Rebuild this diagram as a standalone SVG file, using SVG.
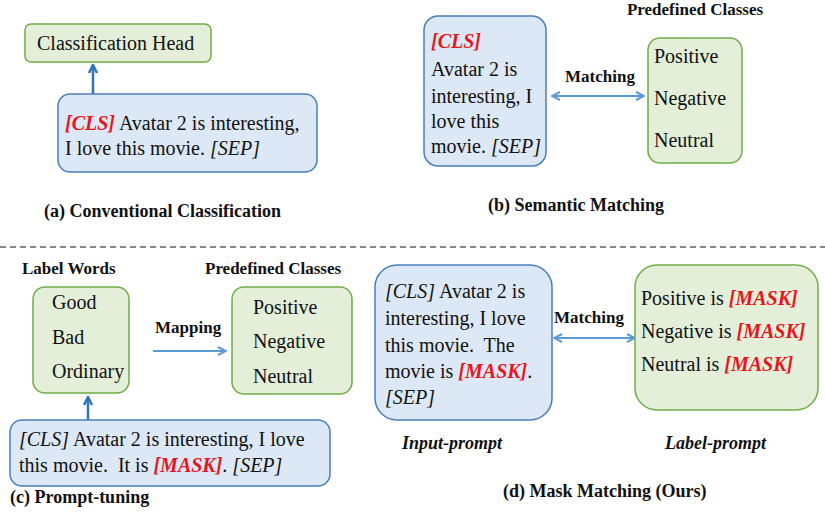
<svg xmlns="http://www.w3.org/2000/svg" width="825" height="512" viewBox="0 0 825 512">
<style>
text{font-family:"Liberation Serif",serif;fill:#111}
.t{font-size:20px;font-family:"Tinos","Times New Roman","Liberation Serif","DejaVu Serif",serif}
.b{font-weight:bold;font-size:17px}
.cap{font-weight:bold;font-size:18px}
.blue{fill:#dce8f5;stroke:#4a7ebb;stroke-width:1.5}
.green{fill:#e3efd9;stroke:#70ad47;stroke-width:1.5}
.r{fill:#e8141c;font-weight:bold;font-style:italic}
.i{font-style:italic}
.c{stroke:#5b9bd5;stroke-width:2;fill:none}
.v{stroke:#2e75b6;stroke-width:2.5;fill:none}
</style>
<defs>
<marker id="ah" viewBox="0 0 10 10" refX="9" refY="5" markerWidth="5" markerHeight="5" orient="auto-start-reverse"><path d="M1,1L9,5L1,9" fill="none" stroke="#5b9bd5" stroke-width="2"/></marker>
<marker id="av" viewBox="0 0 10 10" refX="9" refY="5" markerWidth="4" markerHeight="4" orient="auto"><path d="M1,1L9,5L1,9" fill="none" stroke="#2e75b6" stroke-width="2.5"/></marker>
</defs>
<g id="connectors">
<line class="v" x1="93" y1="94" x2="93" y2="65" marker-end="url(#av)"/>
<line class="c" x1="552" y1="96" x2="644" y2="96" marker-start="url(#ah)" marker-end="url(#ah)"/>
<line class="c" x1="153" y1="351" x2="226" y2="351" marker-end="url(#ah)"/>
<line class="v" x1="88" y1="420" x2="88" y2="397" marker-end="url(#av)"/>
<line class="c" x1="554" y1="338" x2="635" y2="338" marker-start="url(#ah)" marker-end="url(#ah)"/>
</g>
<g id="classhead"><rect class="green" x="25" y="24" width="186" height="38" rx="6"/><text class="t" x="37" y="50">Classification Head</text></g>
<g id="a-input"><rect class="blue" x="58" y="94" width="259" height="78" rx="12"/>
<text class="t" x="65" y="130"><tspan class="r">[CLS]</tspan> Avatar 2 is interesting,</text>
<text class="t" x="65" y="155">I love this movie. <tspan class="i">[SEP]</tspan></text></g>
<text class="cap" x="44" y="217">(a) Conventional Classification</text>

<g id="b-input"><rect class="blue" x="424" y="16" width="122" height="150" rx="14"/>
<text class="t" x="431" y="48" ><tspan class="r">[CLS]</tspan></text>
<text class="t" x="431" y="76">Avatar 2 is</text>
<text class="t" x="431" y="103">interesting, I</text>
<text class="t" x="431" y="128">love this</text>
<text class="t" x="431" y="153">movie. <tspan class="i">[SEP]</tspan></text></g>
<text class="b" x="695" y="15" text-anchor="middle">Predefined Classes</text>
<g id="b-classes"><rect class="green" x="648" y="38" width="94" height="125" rx="12"/>
<text class="t" x="654" y="63">Positive</text><text class="t" x="654" y="105">Negative</text><text class="t" x="654" y="147">Neutral</text></g>
<text class="b" x="565" y="82" font-size="15">Matching</text>
<text class="cap" x="488" y="211">(b) Semantic Matching</text>

<line x1="0" y1="247" x2="825" y2="247" stroke="#111" stroke-width="1.2" stroke-dasharray="6,4"/>

<text class="b" x="22" y="274">Label Words</text>
<g id="c-words"><rect class="green" x="33" y="287" width="96" height="106" rx="12"/>
<text class="t" x="52" y="309">Good</text><text class="t" x="52" y="344">Bad</text><text class="t" x="52" y="378">Ordinary</text></g>
<text class="b" x="205" y="274">Predefined Classes</text>
<g id="c-classes"><rect class="green" x="232" y="287" width="120" height="107" rx="12"/>
<text class="t" x="253" y="314">Positive</text><text class="t" x="253" y="348">Negative</text><text class="t" x="253" y="383">Neutral</text></g>
<text class="b" x="155" y="333" font-size="15">Mapping</text>
<g id="c-input"><rect class="blue" x="10" y="420" width="320" height="66" rx="12"/>
<text class="t" x="19" y="446"><tspan class="i">[CLS]</tspan> Avatar 2 is interesting, I love</text>
<text class="t" x="19" y="472" xml:space="preserve">this movie.  It is <tspan class="r">[MASK]</tspan>. <tspan class="i">[SEP]</tspan></text></g>
<text class="cap" x="10" y="503">(c) Prompt-tuning</text>

<g id="d-input"><rect class="blue" x="375" y="265" width="177" height="155" rx="22"/>
<text class="t" x="385" y="298"><tspan class="i">[CLS]</tspan> Avatar 2 is</text>
<text class="t" x="385" y="325">interesting, I love</text>
<text class="t" x="385" y="352" xml:space="preserve">this movie.  The</text>
<text class="t" x="385" y="378">movie is <tspan class="r">[MASK]</tspan>.</text>
<text class="t i" x="385" y="404">[SEP]</text></g>
<text class="b" x="554" y="323" font-size="15">Matching</text>
<g id="d-labels"><rect class="green" x="635" y="265" width="183" height="145" rx="22"/>
<text class="t" x="641" y="305">Positive is <tspan class="r">[MASK]</tspan></text>
<text class="t" x="641" y="338">Negative is <tspan class="r">[MASK]</tspan></text>
<text class="t" x="641" y="371">Neutral is <tspan class="r">[MASK]</tspan></text></g>
<text class="cap" x="402" y="449" font-style="italic">Input-prompt</text>
<text class="cap" x="665" y="449" font-style="italic">Label-prompt</text>
<text class="cap" x="503" y="497">(d) Mask Matching (Ours)</text>
</svg>
